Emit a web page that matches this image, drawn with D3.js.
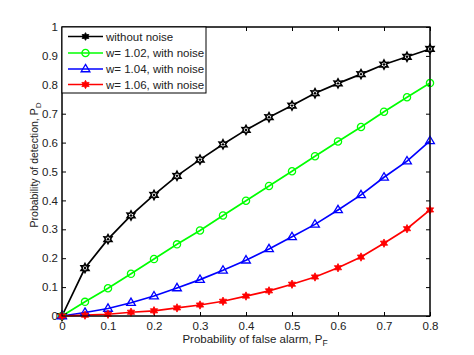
<!DOCTYPE html>
<html><head><meta charset="utf-8">
<script src="https://cdn.jsdelivr.net/npm/d3@7"></script>
<style>body{margin:0;background:#fff}svg{display:block}text{font-family:"Liberation Sans",Arial,sans-serif}</style>
</head><body>
<svg id="c" width="474" height="355"></svg>
<script>
const pf = [0,0.05,0.1,0.15,0.2,0.25,0.3,0.35,0.4,0.45,0.5,0.55,0.6,0.65,0.7,0.75,0.8];
const noNoise = [0,0.166,0.266,0.348,0.419,0.485,0.541,0.594,0.644,0.688,0.728,0.771,0.805,0.837,0.870,0.897,0.924];
const w102 = [0,0.049,0.096,0.146,0.197,0.248,0.296,0.348,0.399,0.450,0.501,0.553,0.604,0.654,0.707,0.757,0.806];
const w104 = [0,0.012,0.026,0.046,0.069,0.097,0.126,0.158,0.193,0.232,0.274,0.317,0.367,0.419,0.480,0.536,0.606];
const w106 = [0,0.003,0.006,0.013,0.018,0.028,0.038,0.051,0.069,0.087,0.110,0.135,0.167,0.204,0.252,0.302,0.367];
const seriesNames = ["without noise","w= 1.02, with noise","w= 1.04, with noise","w= 1.06, with noise"];
const xTicks = [0,0.1,0.2,0.3,0.4,0.5,0.6,0.7,0.8];
const yTicks = [0,0.1,0.2,0.3,0.4,0.5,0.6,0.7,0.8,0.9,1];

const svg = d3.select("#c");
const L=62,R=430,T=27,B=316;
const x = d3.scaleLinear().domain([0,0.8]).range([L,R]);
const y = d3.scaleLinear().domain([0,1]).range([B,T]);

const series = [
  {name:seriesNames[0], vals:noNoise, color:"#000", marker:"hex"},
  {name:seriesNames[1], vals:w102, color:"#00ff00", marker:"circle"},
  {name:seriesNames[2], vals:w104, color:"#0000ff", marker:"tri"},
  {name:seriesNames[3], vals:w106, color:"#ff0000", marker:"star"}
];

function hexPath(r){
  const pts=[];
  for(let i=0;i<12;i++){
    const a=-Math.PI/2+i*Math.PI/6;
    const rr = i%2===0? r : r*0.55;
    pts.push([rr*Math.cos(a), rr*Math.sin(a)]);
  }
  return "M"+pts.map(p=>p.join(",")).join("L")+"Z";
}
function triPath(r){
  return `M0,${-r}L${r*0.95},${r*0.6}L${-r*0.95},${r*0.6}Z`;
}
function drawMarker(g, type, color){
  if(type==="hex"){
    g.append("path").attr("d",hexPath(4.5)).attr("fill","#fff").attr("stroke",color).attr("stroke-width",1.6);
    g.append("circle").attr("r",1.2).attr("fill",color);
  } else if(type==="circle"){
    g.append("circle").attr("r",3.6).attr("fill","none").attr("stroke",color).attr("stroke-width",1.3);
  } else if(type==="tri"){
    g.append("path").attr("d",triPath(4.6)).attr("fill","none").attr("stroke",color).attr("stroke-width",1.3);
  } else {
    g.append("path").attr("d",hexPath(4.2)).attr("fill",color).attr("stroke",color).attr("stroke-width",0.8);
  }
}

// axes box and ticks
svg.append("rect").attr("x",L).attr("y",T).attr("width",R-L).attr("height",B-T).attr("fill","#fff").attr("stroke","#000").attr("stroke-width",1);

const xAxis = d3.axisBottom(x).tickValues(xTicks).tickSize(-4).tickPadding(6).tickFormat(d=>+d.toFixed(1)+"");
svg.append("g").attr("transform",`translate(0,${B})`).call(xAxis);
const xTop = d3.axisTop(x).tickValues(xTicks).tickSize(-4).tickFormat("");
svg.append("g").attr("transform",`translate(0,${T})`).call(xTop);
const yAxis = d3.axisLeft(y).tickValues(yTicks).tickSize(-4).tickPadding(4).tickFormat(d=>+d.toFixed(1)+"");
svg.append("g").attr("transform",`translate(${L},0)`).call(yAxis);
const yRight = d3.axisRight(y).tickValues(yTicks).tickSize(-4).tickFormat("");
svg.append("g").attr("transform",`translate(${R},0)`).call(yRight);
svg.selectAll(".domain").remove();
svg.selectAll(".tick line").attr("stroke","#000");
svg.selectAll(".tick text").attr("font-size",11.5).attr("fill","#222").attr("font-family","Liberation Sans, Arial, sans-serif");

// lines
const line = d3.line().x((d,i)=>x(pf[i])).y(d=>y(d));
const gs = svg.append("g");
series.forEach(s=>{
  gs.append("path").datum(s.vals).attr("d",line).attr("fill","none").attr("stroke",s.color).attr("stroke-width",1.7);
});
series.forEach(s=>{
  s.vals.forEach((v,i)=>{
    const g = gs.append("g").attr("transform",`translate(${x(pf[i])},${y(v)})`);
    drawMarker(g,s.marker,s.color);
  });
});

// box edges on top
svg.append("rect").attr("x",L).attr("y",T).attr("width",R-L).attr("height",B-T).attr("fill","none").attr("stroke","#000").attr("stroke-width",1);

// legend
const lg = svg.append("g");
lg.append("rect").attr("x",L).attr("y",T).attr("width",144).attr("height",66).attr("fill","#fff").attr("stroke","#000").attr("stroke-width",1);
const rows=[36.5,53,69,84.5];
series.forEach((s,i)=>{
  lg.append("line").attr("x1",68).attr("x2",103).attr("y1",rows[i]).attr("y2",rows[i]).attr("stroke",s.color).attr("stroke-width",1.7);
  const g = lg.append("g").attr("transform",`translate(85.5,${rows[i]})`);
  if(s.marker==="hex"){
    g.append("path").attr("d",hexPath(3.8)).attr("fill",s.color).attr("stroke",s.color).attr("stroke-width",1);
  } else drawMarker(g,s.marker,s.color);
  lg.append("text").attr("x",106).attr("y",rows[i]+4).attr("font-size",11.5).attr("fill","#222").text(s.name);
});

// axis labels
const xl = svg.append("text").attr("x",255).attr("y",343).attr("text-anchor","middle").attr("font-size",11.5).attr("fill","#222");
xl.append("tspan").text("Probability of false alarm, P");
xl.append("tspan").attr("font-size",8.5).attr("dy",3).text("F");
const yl = svg.append("text").attr("transform",`translate(38,165) rotate(-90)`).attr("text-anchor","middle").attr("font-size",10.5).attr("fill","#222");
yl.append("tspan").text("Probability of detection, P");
yl.append("tspan").attr("font-size",8).attr("dy",3).text("D");
</script>
</body></html>
